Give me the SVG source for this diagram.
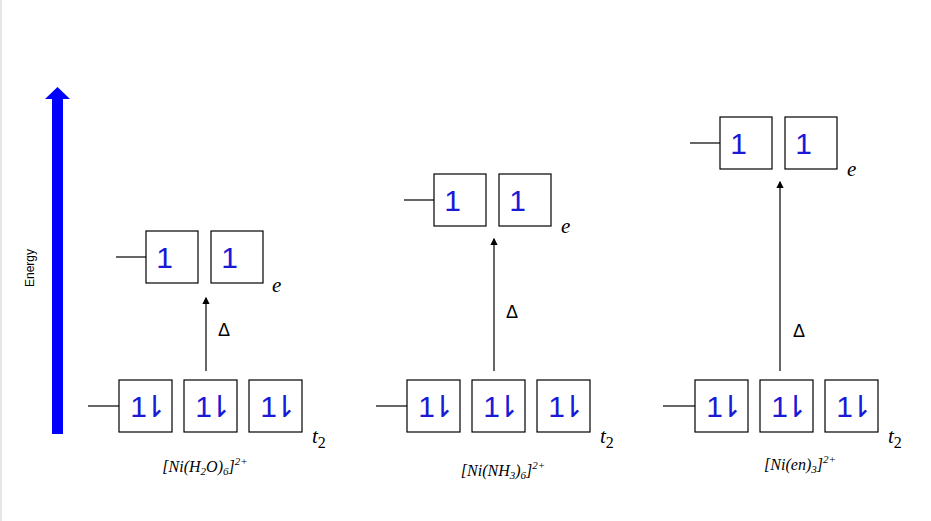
<svg xmlns="http://www.w3.org/2000/svg" width="931" height="521" viewBox="0 0 931 521">
<style>
.b{fill:#fff;stroke:#000;stroke-width:1.2}
.l{stroke:#000;stroke-width:1.2}
.s{font-family:"Liberation Sans",sans-serif;font-size:30px;fill:#1a1ad6;text-anchor:middle;letter-spacing:-5px}
.m{font-family:"Liberation Serif",serif;font-style:italic;font-size:21px}
.f{font-family:"Liberation Serif",serif;font-style:italic;font-size:16px;text-anchor:middle}
.d{font-family:"Liberation Sans",sans-serif;font-size:18px}
</style>
<defs><marker id="ah" markerWidth="6" markerHeight="6" refX="5" refY="3" orient="auto"><path d="M0,0L6,3L0,6z"/></marker></defs>
<rect width="931" height="521" fill="#fff"/>
<line x1="1" y1="0" x2="1" y2="521" stroke="#ccc"/>
<g id="energy">
<rect x="52" y="98" width="11" height="336" fill="#0000ff"/>
<path d="M45,99L57.5,87L70,99z" fill="#0000ff"/>
<text class="d" style="font-size:12px" transform="translate(34,268) rotate(-90)" text-anchor="middle">Energy</text>
</g>
<g id="connectors">
<line class="l" x1="206" y1="371" x2="206" y2="298" marker-end="url(#ah)"/>
<line class="l" x1="494" y1="371" x2="494" y2="239" marker-end="url(#ah)"/>
<line class="l" x1="780" y1="371" x2="780" y2="182" marker-end="url(#ah)"/>
<line class="l" x1="116" y1="257" x2="146" y2="257"/>
<line class="l" x1="88" y1="406" x2="119" y2="406"/>
<line class="l" x1="404" y1="200" x2="434" y2="200"/>
<line class="l" x1="376" y1="406" x2="407" y2="406"/>
<line class="l" x1="690" y1="143" x2="720" y2="143"/>
<line class="l" x1="663" y1="406" x2="695" y2="406"/>
</g>
<g id="h2o">
<rect class="b" x="146" y="231" width="52" height="52"/><text class="s" x="162" y="268">1</text>
<rect class="b" x="211" y="231" width="52" height="52"/><text class="s" x="227" y="268">1</text>
<rect class="b" x="119" y="380" width="53" height="52"/><text class="s" x="146" y="417">1⇂</text>
<rect class="b" x="184" y="380" width="53" height="52"/><text class="s" x="211" y="417">1⇂</text>
<rect class="b" x="249" y="380" width="53" height="52"/><text class="s" x="276" y="417">1⇂</text>
<text class="m" x="272" y="292">e</text>
<text class="d" x="218" y="336">Δ</text>
<text class="m" x="312" y="443">t<tspan font-style="normal" font-size="16" dy="5">2</tspan></text>
<text class="f" x="205" y="472">[Ni(H<tspan font-size="11" dy="3">2</tspan><tspan dy="-3">O)</tspan><tspan font-size="11" dy="3">6</tspan><tspan dy="-3">]</tspan><tspan font-size="11" dy="-7">2+</tspan></text>
</g>
<g id="nh3">
<rect class="b" x="434" y="174" width="52" height="52"/><text class="s" x="450" y="211">1</text>
<rect class="b" x="499" y="174" width="52" height="52"/><text class="s" x="515" y="211">1</text>
<rect class="b" x="407" y="380" width="53" height="52"/><text class="s" x="434" y="417">1⇂</text>
<rect class="b" x="472" y="380" width="53" height="52"/><text class="s" x="499" y="417">1⇂</text>
<rect class="b" x="537" y="380" width="53" height="52"/><text class="s" x="564" y="417">1⇂</text>
<text class="m" x="561" y="233">e</text>
<text class="d" x="506" y="318">Δ</text>
<text class="m" x="600" y="443">t<tspan font-style="normal" font-size="16" dy="5">2</tspan></text>
<text class="f" x="503" y="476">[Ni(NH<tspan font-size="11" dy="3">3</tspan><tspan dy="-3">)</tspan><tspan font-size="11" dy="3">6</tspan><tspan dy="-3">]</tspan><tspan font-size="11" dy="-7">2+</tspan></text>
</g>
<g id="en">
<rect class="b" x="720" y="117" width="52" height="52"/><text class="s" x="736" y="154">1</text>
<rect class="b" x="785" y="117" width="52" height="52"/><text class="s" x="801" y="154">1</text>
<rect class="b" x="695" y="380" width="53" height="52"/><text class="s" x="722" y="417">1⇂</text>
<rect class="b" x="760" y="380" width="53" height="52"/><text class="s" x="787" y="417">1⇂</text>
<rect class="b" x="825" y="380" width="53" height="52"/><text class="s" x="852" y="417">1⇂</text>
<text class="m" x="847" y="176">e</text>
<text class="d" x="793" y="337">Δ</text>
<text class="m" x="888" y="443">t<tspan font-style="normal" font-size="16" dy="5">2</tspan></text>
<text class="f" x="800" y="470">[Ni(en)<tspan font-size="11" dy="3">3</tspan><tspan dy="-3">]</tspan><tspan font-size="11" dy="-7">2+</tspan></text>
</g>
</svg>
